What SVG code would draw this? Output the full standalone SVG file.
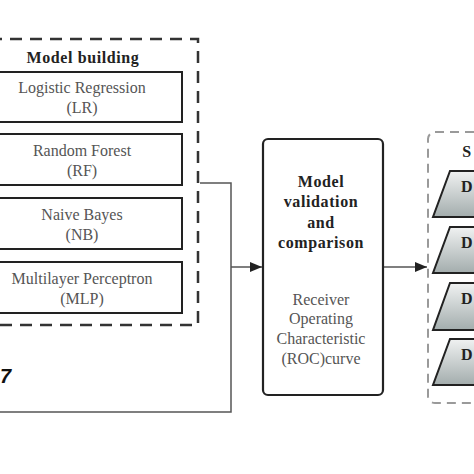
<svg xmlns="http://www.w3.org/2000/svg" width="474" height="474" viewBox="0 0 474 474">
<style>
.bg{fill:#ffffff}
.box{fill:#ffffff;stroke:#222;stroke-width:2}
.t{font-family:"Liberation Serif","DejaVu Serif",serif;font-size:16px;font-weight:400;fill:#555;text-anchor:middle}
.tb{font-family:"Liberation Serif","DejaVu Serif",serif;font-size:16px;font-weight:bold;fill:#222;text-anchor:middle;letter-spacing:0.6px}
.dash{fill:none;stroke:#333;stroke-width:2.5;stroke-dasharray:12 8}
.gdash{fill:none;stroke:#9a9a9a;stroke-width:2;stroke-dasharray:9 6}
.trap{fill:url(#g);stroke:#222;stroke-width:2}
.line{fill:none;stroke:#555;stroke-width:1.5}
</style>
<defs>
<linearGradient id="g" x1="0" y1="0" x2="0" y2="1">
<stop offset="0" stop-color="#f0f2f2"/>
<stop offset="1" stop-color="#a3adad"/>
</linearGradient>
<marker id="arr" viewBox="0 0 12 10" refX="12" refY="5" markerWidth="12" markerHeight="10" markerUnits="userSpaceOnUse" orient="auto">
<path d="M0,0 L12,5 L0,10 z" fill="#222"/>
</marker>
</defs>
<rect class="bg" width="474" height="474"/>

<g id="model-building">
<path class="dash" d="M-10,39 H198 V325 H-10"/>
<text class="tb" x="83" y="63">Model building</text>
</g>

<g id="lr">
<rect class="box" x="-10" y="72" width="192" height="50"/>
<text class="t" x="82" y="93">Logistic Regression</text>
<text class="t" x="82" y="113">(LR)</text>
</g>
<g id="rf">
<rect class="box" x="-10" y="134" width="192" height="51"/>
<text class="t" x="82" y="156">Random Forest</text>
<text class="t" x="82" y="176">(RF)</text>
</g>
<g id="nb">
<rect class="box" x="-10" y="198" width="192" height="51"/>
<text class="t" x="82" y="220">Naive Bayes</text>
<text class="t" x="82" y="240">(NB)</text>
</g>
<g id="mlp">
<rect class="box" x="-10" y="262" width="192" height="51"/>
<text class="t" x="82" y="284">Multilayer Perceptron</text>
<text class="t" x="82" y="304">(MLP)</text>
</g>

<g id="label-7">
<text x="0" y="383" style="font-family:'Liberation Sans',Arial,sans-serif;font-size:20px;font-weight:bold;font-style:italic;fill:#111">7</text>
</g>

<g id="connectors">
<path class="line" d="M200,183 H231 V412 H-5"/>
<path class="line" d="M231,267 H262" marker-end="url(#arr)"/>
<path class="line" d="M384,267 H427" marker-end="url(#arr)"/>
</g>

<g id="validation">
<rect x="263" y="139" width="120" height="256" rx="5" fill="#fff" stroke="#222" stroke-width="2.2"/>
<text class="tb" x="321" y="187">Model</text>
<text class="tb" x="321" y="207">validation</text>
<text class="tb" x="321" y="228">and</text>
<text class="tb" x="321" y="248">comparison</text>
<text class="t" x="321" y="305">Receiver</text>
<text class="t" x="321" y="324">Operating</text>
<text class="t" x="321" y="344">Characteristic</text>
<text class="t" x="321" y="364">(ROC)curve</text>
</g>

<g id="right-group">
<rect class="gdash" x="428" y="132" width="80" height="271" rx="7"/>
<text class="tb" x="467" y="157">S</text>
</g>
<g id="d1">
<polygon class="trap" points="450,171 490,171 490,217 433,217"/>
<text class="tb" x="467" y="192">D</text>
</g>
<g id="d2">
<polygon class="trap" points="450,227 490,227 490,273 433,273"/>
<text class="tb" x="467" y="248">D</text>
</g>
<g id="d3">
<polygon class="trap" points="450,283 490,283 490,330 433,330"/>
<text class="tb" x="467" y="304">D</text>
</g>
<g id="d4">
<polygon class="trap" points="450,339 490,339 490,385 433,385"/>
<text class="tb" x="467" y="360">D</text>
</g>
</svg>
